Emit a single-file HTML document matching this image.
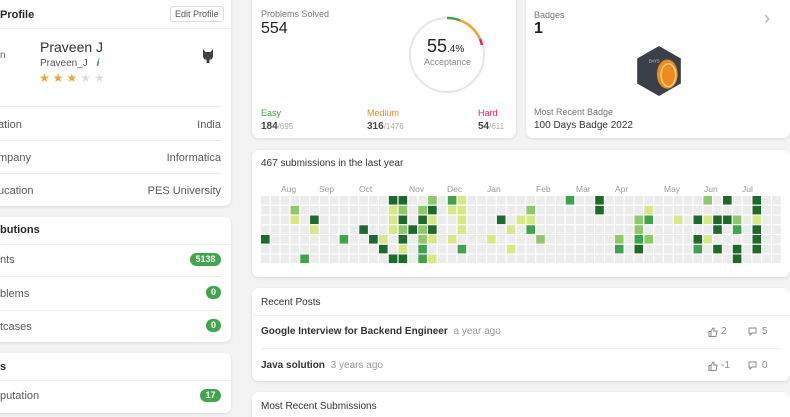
<!DOCTYPE html>
<html><head><meta charset="utf-8"><style>
*{box-sizing:border-box;margin:0;padding:0}
html,body{width:790px;height:417px;overflow:hidden}
body{background:#f3f3f3;font-family:"Liberation Sans",sans-serif;color:#262626;position:relative}
.card{position:absolute;background:#fff;border-radius:7px;box-shadow:0 1px 3px rgba(0,0,0,.1)}
.t{position:absolute;white-space:nowrap}
.sep{position:absolute;height:1px;background:#ececec}
.badge{position:absolute;background:#3fa64b;color:#fff;font-size:9px;font-weight:bold;border-radius:8px;height:13px;line-height:13px;text-align:center}
.g{font-size:11px;color:#595959}
.ic{position:absolute;font-size:10px;color:#888;display:flex;align-items:center;gap:3px}
</style></head><body>

<div class="card" style="left:-10px;top:-8px;width:241px;height:214px">
 <div class="t" style="left:10px;top:17px;font-size:11px;font-weight:bold">Profile</div>
 <div class="t" style="left:180px;top:14px;font-size:9px;color:#555;border:1px solid #ddd;border-radius:3px;padding:2px 4px">Edit Profile</div>
 <div class="sep" style="left:10px;right:0;top:36px"></div>
 <div class="t" style="left:10px;top:58px;font-size:10px;color:#666">n</div>
 <div class="t" style="left:50px;top:47px;font-size:14px;color:#333">Praveen J</div>
 <div class="t" style="left:50px;top:66px;font-size:10px;color:#555">Praveen_J <span style="color:#3b6fc9;font-style:italic;font-weight:bold;margin-left:6px">i</span></div>
 <div class="t" style="left:49px;top:79px;font-size:12px;letter-spacing:3px"><span style="color:#f0a232">★★★</span><span style="color:#ddd">★★</span></div>
 <svg style="position:absolute;left:211px;top:56px" width="14" height="16" viewBox="0 0 14 16"><path d="M2 1 L4.5 4 H9.5 L12 1 V8 C12 11 9.5 12 7 12 C4.5 12 2 11 2 8Z" fill="#444"/><rect x="5.5" y="11" width="3" height="4" fill="#444"/></svg>
 <div class="sep" style="left:10px;right:10px;top:114px"></div>
 <div class="t g" style="left:8px;top:127px">ation</div><div class="t g" style="right:10px;top:127px">India</div>
 <div class="sep" style="left:10px;right:10px;top:148px"></div>
 <div class="t g" style="left:8px;top:160px">mpany</div><div class="t g" style="right:10px;top:160px">Informatica</div>
 <div class="sep" style="left:10px;right:10px;top:181px"></div>
 <div class="t g" style="left:8px;top:193px">ucation</div><div class="t g" style="right:10px;top:193px">PES University</div>
</div>

<div class="card" style="left:-10px;top:217px;width:241px;height:125px">
 <div class="t" style="left:10px;top:7px;font-size:11px;font-weight:bold">butions</div>
 <div class="sep" style="left:10px;right:0;top:27px"></div>
 <div class="t g" style="left:10px;top:37px">nts</div><div class="badge" style="right:10px;top:36px;width:31px">5138</div>
 <div class="sep" style="left:10px;right:10px;top:59px"></div>
 <div class="t g" style="left:10px;top:71px">blems</div><div class="badge" style="right:10px;top:69px;width:15px">0</div>
 <div class="sep" style="left:10px;right:10px;top:93px"></div>
 <div class="t g" style="left:10px;top:104px">tcases</div><div class="badge" style="right:10px;top:102px;width:15px">0</div>
</div>

<div class="card" style="left:-10px;top:353px;width:241px;height:60px">
 <div class="t" style="left:10px;top:8px;font-size:11px;font-weight:bold">s</div>
 <div class="sep" style="left:10px;right:0;top:27px"></div>
 <div class="t g" style="left:10px;top:37px">putation</div><div class="badge" style="right:10px;top:36px;width:21px">17</div>
</div>

<div class="card" style="left:252px;top:-6px;width:264px;height:144px">
 <div class="t" style="left:9px;top:15px;font-size:9px;color:#777">Problems Solved</div>
 <div class="t" style="left:9px;top:26px;font-size:16px;color:#222">554</div>
 <svg style="position:absolute;left:156px;top:22px" width="78" height="78" viewBox="0 0 78 78">
  <circle cx="39" cy="39" r="37" fill="none" stroke="#e6e6e6" stroke-width="2"/>
  <path d="M39 2 A37 37 0 0 1 52 4.3" fill="none" stroke="#43a047" stroke-width="2.5"/>
  <path d="M52 4.3 A37 37 0 0 1 72 23" fill="none" stroke="#f0a232" stroke-width="2.5"/>
  <path d="M72 23 A37 37 0 0 1 74 29" fill="none" stroke="#e91e63" stroke-width="2.5"/>
 </svg>
 <div class="t" style="left:175px;top:42px;font-size:18px;color:#222">55<span style="font-size:10px">.4%</span></div>
 <div class="t" style="left:172px;top:63px;font-size:9px;color:#888">Acceptance</div>
 <div class="t" style="left:9px;top:114px;font-size:9px;color:#43a047">Easy</div>
 <div class="t" style="left:9px;top:127px;font-size:10px;color:#444;font-weight:bold">184<span style="font-weight:normal;color:#aaa;font-size:8px">/695</span></div>
 <div class="t" style="left:115px;top:114px;font-size:9px;color:#f0892a">Medium</div>
 <div class="t" style="left:115px;top:127px;font-size:10px;color:#444;font-weight:bold">316<span style="font-weight:normal;color:#aaa;font-size:8px">/1476</span></div>
 <div class="t" style="left:226px;top:114px;font-size:9px;color:#e91e63">Hard</div>
 <div class="t" style="left:226px;top:127px;font-size:10px;color:#444;font-weight:bold">54<span style="font-weight:normal;color:#aaa;font-size:8px">/611</span></div>
</div>

<div class="card" style="left:526px;top:-6px;width:264px;height:144px">
 <div class="t" style="left:8px;top:16px;font-size:9px;color:#777">Badges</div>
 <div class="t" style="left:8px;top:26px;font-size:16px;color:#222;font-weight:bold">1</div>
 <div class="t" style="left:238px;top:14px;font-size:18px;color:#aaa">&#8250;</div>
 <svg style="position:absolute;left:107px;top:51px" width="52" height="52" viewBox="0 0 50 50">
  <polygon points="25,1 46,13 46,37 25,49 4,37 4,13" fill="#3a3f4a"/>
  <ellipse cx="33" cy="28" rx="10" ry="14" fill="#f08a1c"/>
  <ellipse cx="34" cy="29" rx="7" ry="11" fill="none" stroke="#ffd08a" stroke-width="1.5"/>
  <text x="15" y="17" font-size="4" fill="#ccc" font-family="Liberation Sans">DAYS</text>
 </svg>
 <div class="t" style="left:8px;top:113px;font-size:9px;color:#777">Most Recent Badge</div>
 <div class="t" style="left:8px;top:126px;font-size:10px;color:#333">100 Days Badge 2022</div>
</div>

<div class="card" style="left:252px;top:150px;width:538px;height:127px">
 <div class="t" style="left:9px;top:8px;font-size:10px;color:#333">467 submissions in the last year</div>
 <svg id="hm" style="position:absolute;left:0;top:0" width="538" height="127"></svg>
</div>

<div class="card" style="left:252px;top:288px;width:538px;height:93px">
 <div class="t" style="left:9px;top:9px;font-size:10px;color:#333">Recent Posts</div>
 <div class="sep" style="left:0;right:0;top:27px"></div>
 <div class="t" style="left:9px;top:38px;font-size:10px;color:#333;font-weight:bold">Google Interview for Backend Engineer <span style="font-weight:normal;color:#999;margin-left:3px">a year ago</span></div>
 <div class="ic" style="left:456px;top:38px"><svg width="10" height="10" viewBox="0 0 10 10"><path d="M1 4.5h2v5H1zM3 4.5 5 1c1 0 1.3.7 1 2L5.7 4H9l-1 5.5H3" fill="none" stroke="#888"/></svg>2</div>
 <div class="ic" style="left:496px;top:38px"><svg width="11" height="10" viewBox="0 0 11 10"><path d="M1 1h7v5H4L2 8V6H1z" fill="none" stroke="#888"/></svg>5</div>
 <div class="sep" style="left:9px;right:10px;top:60px"></div>
 <div class="t" style="left:9px;top:72px;font-size:10px;color:#333;font-weight:bold">Java solution <span style="font-weight:normal;color:#999;margin-left:3px">3 years ago</span></div>
 <div class="ic" style="left:456px;top:72px"><svg width="10" height="10" viewBox="0 0 10 10"><path d="M1 4.5h2v5H1zM3 4.5 5 1c1 0 1.3.7 1 2L5.7 4H9l-1 5.5H3" fill="none" stroke="#888"/></svg>-1</div>
 <div class="ic" style="left:496px;top:72px"><svg width="11" height="10" viewBox="0 0 11 10"><path d="M1 1h7v5H4L2 8V6H1z" fill="none" stroke="#888"/></svg>0</div>
</div>

<div class="card" style="left:252px;top:392px;width:538px;height:40px">
 <div class="t" style="left:9px;top:9px;font-size:10px;color:#333">Most Recent Submissions</div>
</div>

<script>
var svg=document.getElementById('hm'),s='';
var C={d:'#1e6a2a',m:'#3fa34d',l:'#8dc86a',y:'#d7e885'};
var on={
'13,0':'d','14,0':'d','17,0':'l','19,0':'m','20,0':'y',
'3,1':'l','13,1':'y','14,1':'l','16,1':'l','17,1':'d','19,1':'y','20,1':'y',
'3,2':'y','5,2':'d','13,2':'y','14,2':'d','16,2':'d','17,2':'y','20,2':'y','24,2':'d','26,2':'y',
'5,3':'y','10,3':'d','13,3':'y','14,3':'l','15,3':'d','16,3':'l','17,3':'d','20,3':'y','25,3':'y',
'0,4':'d','8,4':'m','11,4':'d','12,4':'y','14,4':'d','16,4':'l','17,4':'y','19,4':'y','23,4':'y',
'12,5':'d','14,5':'y','16,5':'m','20,5':'m','25,5':'y',
'4,6':'m','13,6':'d','14,6':'d','16,6':'m','17,6':'y',
'31,0':'m','34,0':'d','45,0':'l','47,0':'d','50,0':'d',
'27,1':'l','34,1':'d','39,1':'y','50,1':'d',
'26,2':'y','27,2':'y','38,2':'l','39,2':'m','42,2':'y','44,2':'d','45,2':'y','46,2':'d','47,2':'d','48,2':'l','50,2':'y',
'27,3':'m','38,3':'l','46,3':'d','48,3':'m','50,3':'d',
'28,4':'l','36,4':'l','38,4':'m','39,4':'l','44,4':'d','45,4':'y','50,4':'d',
'36,5':'m','38,5':'d','44,5':'m','46,5':'d','48,5':'d','50,5':'d',
'48,6':'d'};
for(var c=0;c<53;c++)for(var r=0;r<7;r++){var k=c+','+r;var f=on[k]?C[on[k]]:'#ececec';
s+='<rect x="'+(9+c*9.83).toFixed(1)+'" y="'+(46+r*9.75).toFixed(1)+'" width="8.6" height="8.6" fill="'+f+'"/>';}
var m=[['Aug',29],['Sep',67],['Oct',107],['Nov',157],['Dec',195],['Jan',235],['Feb',284],['Mar',324],['Apr',363],['May',412],['Jun',452],['Jul',490]];
m.forEach(function(a){s+='<text x="'+a[1]+'" y="42" font-size="8.5" fill="#999" font-family="Liberation Sans">'+a[0]+'</text>';});
svg.innerHTML=s;
</script>
</body></html>
